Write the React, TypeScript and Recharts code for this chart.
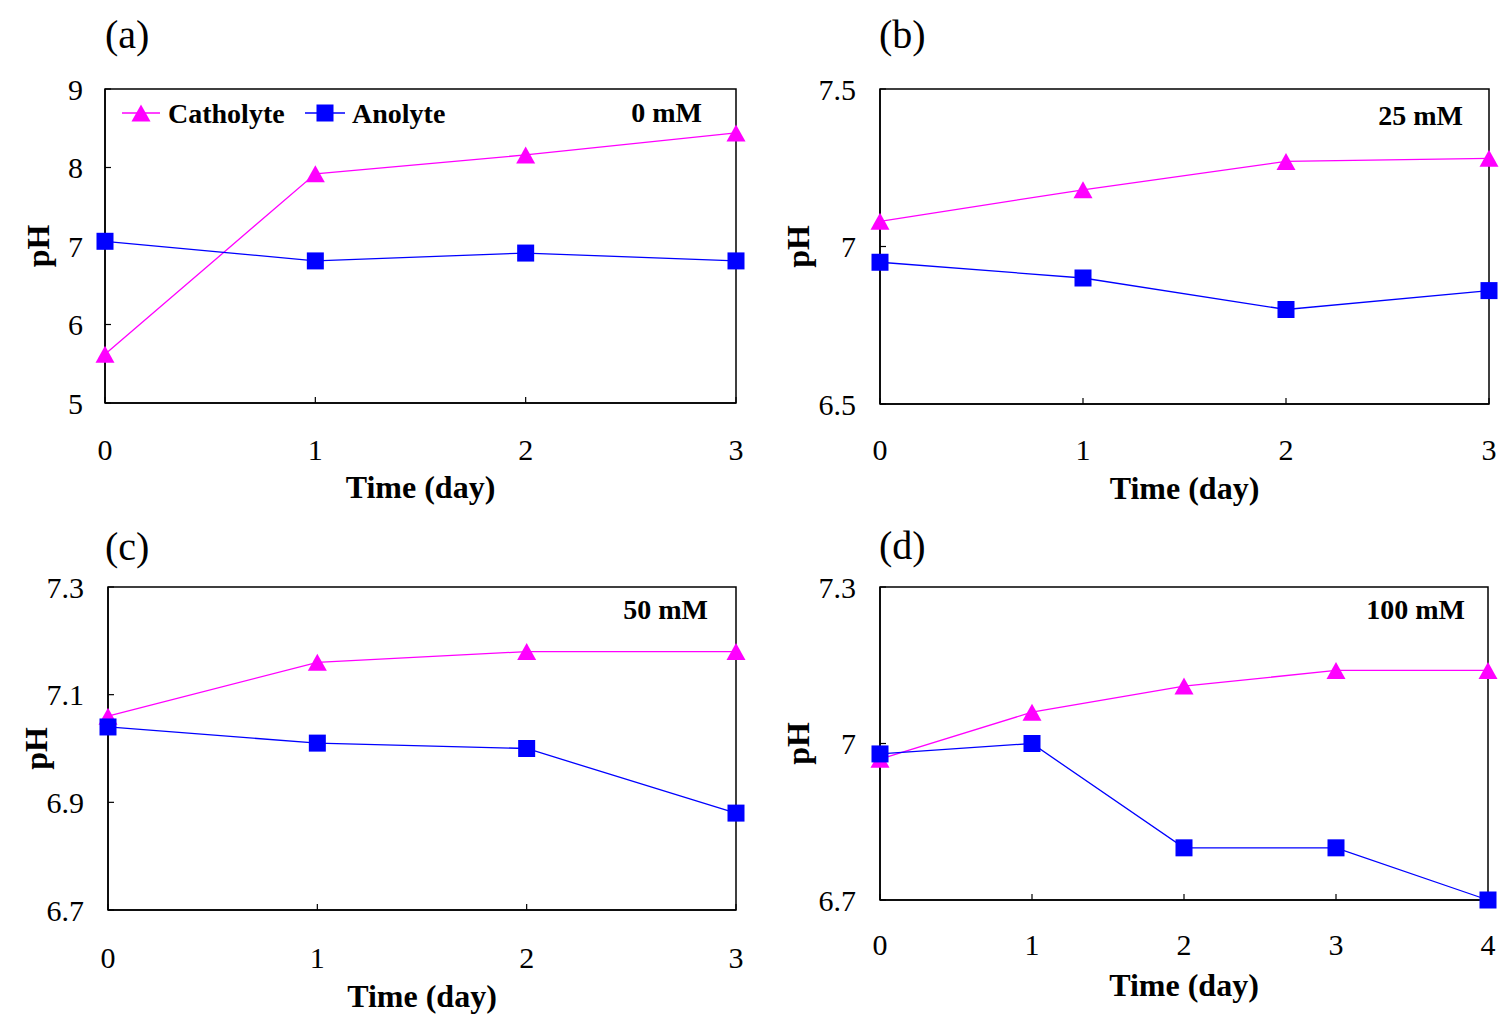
import React from 'react';
import { LineChart, Line, XAxis, YAxis, ReferenceArea, Legend, Label } from 'recharts';

// Sampling days
const daysShort = [0, 1, 2, 3];
const daysLong = [0, 1, 2, 3, 4];

// pH readings per buffer concentration
const catholyte0 = [5.62, 7.92, 8.16, 8.44];
const anolyte0 = [7.06, 6.81, 6.91, 6.81];
const catholyte25 = [7.08, 7.18, 7.27, 7.28];
const anolyte25 = [6.95, 6.9, 6.8, 6.86];
const catholyte50 = [7.06, 7.16, 7.18, 7.18];
const anolyte50 = [7.04, 7.01, 7.0, 6.88];
const catholyte100 = [6.97, 7.06, 7.11, 7.14, 7.14];
const anolyte100 = [6.98, 7.0, 6.8, 6.8, 6.7];

// Y-axis ticks per panel
const yTicks0 = [5, 6, 7, 8, 9];
const yTicks25 = [6.5, 7, 7.5];
const yTicks50 = [6.7, 6.9, 7.1, 7.3];
const yTicks100 = [6.7, 7, 7.3];

const panelLetters = ['(a)', '(b)', '(c)', '(d)'];
const concentrations = ['0 mM', '25 mM', '50 mM', '100 mM'];
const seriesNames = ['Catholyte', 'Anolyte'];
const xTitle = 'Time (day)';
const yTitle = 'pH';

const FONT = "'Liberation Serif', 'Times New Roman', serif";
const MAGENTA = '#FF00FF';
const BLUE = '#0000FF';

const TRI_W = 19;
const TRI_H = 17;
const SQ = 17;

const triPoints = (cx: number, cy: number) =>
  `${cx},${cy - TRI_H / 2} ${cx - TRI_W / 2},${cy + TRI_H / 2} ${cx + TRI_W / 2},${cy + TRI_H / 2}`;

const renderTriangle = (p: any) => {
  if (p.cx == null || p.cy == null) return <g key={`t-${p.index}`} />;
  return <polygon key={`t-${p.index}`} points={triPoints(p.cx, p.cy)} fill={MAGENTA} />;
};

const renderSquare = (p: any) => {
  if (p.cx == null || p.cy == null) return <g key={`s-${p.index}`} />;
  return <rect key={`s-${p.index}`} x={p.cx - SQ / 2} y={p.cy - SQ / 2} width={SQ} height={SQ} fill={BLUE} />;
};

const LegendContent = () => (
  <svg width={340} height={32} style={{ display: 'block', overflow: 'visible' }}>
    <line x1={10} x2={48} y1={15} y2={15} stroke={MAGENTA} strokeWidth={1.3} />
    <polygon points={triPoints(29, 15)} fill={MAGENTA} />
    <text x={56} y={15} dominantBaseline="central" fontFamily={FONT} fontWeight="bold" fontSize={28} fill="#000">
      {seriesNames[0]}
    </text>
    <line x1={193} x2={233} y1={15} y2={15} stroke={BLUE} strokeWidth={1.3} />
    <rect x={213 - SQ / 2} y={15 - SQ / 2} width={SQ} height={SQ} fill={BLUE} />
    <text x={240} y={15} dominantBaseline="central" fontFamily={FONT} fontWeight="bold" fontSize={28} fill="#000">
      {seriesNames[1]}
    </text>
  </svg>
);

type Box = { left: number; top: number; width: number; height: number };
type Plot = { l: number; r: number; t: number; b: number };

interface PanelProps {
  box: Box;
  plot: Plot;
  days: number[];
  cath: number[];
  ano: number[];
  yDomain: [number, number];
  yTicks: number[];
  yTickMargin: number;
  xTickMargin: number;
  xTitleOffset: number;
  pHx: number;
  showLegend?: boolean;
}

const Y_AXIS_W = 90;
const X_AXIS_H = 100;

const Panel = ({ box, plot, days, cath, ano, yDomain, yTicks, yTickMargin, xTickMargin, xTitleOffset, pHx, showLegend }: PanelProps) => {
  const rows = days.map((d, i) => ({ day: d, catholyte: cath[i], anolyte: ano[i] }));
  const margin = {
    top: plot.t - box.top,
    right: box.left + box.width - plot.r,
    left: plot.l - box.left - Y_AXIS_W,
    bottom: box.top + box.height - plot.b - X_AXIS_H,
  };
  const maxDay = days[days.length - 1];
  const tickStyle = { fill: '#000', fontSize: 30, fontFamily: FONT };
  const pHLocalX = pHx - box.left;
  const pHLocalY = (plot.t + plot.b) / 2 - box.top;
  return (
    <div style={{ position: 'absolute', left: box.left, top: box.top }}>
      <LineChart width={box.width} height={box.height} data={rows} margin={margin}>
        <ReferenceArea
          x1={0}
          x2={maxDay}
          y1={yDomain[0]}
          y2={yDomain[1]}
          fill="none"
          stroke="#000"
          strokeWidth={1.5}
          ifOverflow="visible"
        />
        <XAxis
          dataKey="day"
          type="number"
          domain={[0, maxDay]}
          ticks={days}
          interval={0}
          height={X_AXIS_H}
          tickSize={-6}
          tickMargin={xTickMargin}
          axisLine={{ stroke: '#000', strokeWidth: 1.5 }}
          tickLine={{ stroke: '#000', strokeWidth: 1.2 }}
          tick={tickStyle}
        >
          <Label
            value={xTitle}
            position="insideTop"
            offset={xTitleOffset}
            style={{ fontFamily: FONT, fontWeight: 'bold', fontSize: 32, fill: '#000' }}
          />
        </XAxis>
        <YAxis
          type="number"
          domain={yDomain}
          ticks={yTicks}
          interval={0}
          width={Y_AXIS_W}
          tickSize={-6}
          tickMargin={yTickMargin}
          axisLine={{ stroke: '#000', strokeWidth: 1.5 }}
          tickLine={{ stroke: '#000', strokeWidth: 1.2 }}
          tick={tickStyle}
        >
          <Label
            content={() => (
              <text
                x={pHLocalX}
                y={pHLocalY}
                transform={`rotate(-90, ${pHLocalX}, ${pHLocalY})`}
                textAnchor="middle"
                dominantBaseline="central"
                fontFamily={FONT}
                fontWeight="bold"
                fontSize={32}
                fill="#000"
              >
                {yTitle}
              </text>
            )}
          />
        </YAxis>
        {showLegend && (
          <Legend
            layout="vertical"
            align="center"
            verticalAlign="middle"
            content={LegendContent}
            wrapperStyle={{ position: 'absolute', left: 112, top: 98, width: 340, height: 32 }}
          />
        )}
        <Line
          dataKey="catholyte"
          name={seriesNames[0]}
          stroke={MAGENTA}
          strokeWidth={1.3}
          dot={renderTriangle}
          activeDot={false}
          isAnimationActive={false}
        />
        <Line
          dataKey="anolyte"
          name={seriesNames[1]}
          stroke={BLUE}
          strokeWidth={1.3}
          dot={renderSquare}
          activeDot={false}
          isAnimationActive={false}
        />
      </LineChart>
    </div>
  );
};

const tagStyle = (rightEdge: number, centerY: number): React.CSSProperties => ({
  position: 'absolute',
  right: 1512 - rightEdge,
  top: centerY - 14,
  fontFamily: FONT,
  fontWeight: 'bold',
  fontSize: 28,
  lineHeight: '28px',
  whiteSpace: 'nowrap',
  color: '#000',
});

const letterStyle = (left: number, top: number): React.CSSProperties => ({
  position: 'absolute',
  left,
  top,
  fontFamily: FONT,
  fontSize: 40,
  lineHeight: '40px',
  color: '#000',
});

export default function App() {
  return (
    <div style={{ position: 'absolute', left: 0, top: 0, width: 1512, height: 1024, background: '#fff', overflow: 'hidden' }}>
      <Panel
        box={{ left: 0, top: 0, width: 760, height: 512 }}
        plot={{ l: 105, r: 736, t: 89, b: 403 }}
        days={daysShort}
        cath={catholyte0}
        ano={anolyte0}
        yDomain={[5, 9]}
        yTicks={yTicks0}
        yTickMargin={28}
        xTickMargin={42}
        xTitleOffset={72}
        pHx={38}
        showLegend
      />
      <Panel
        box={{ left: 760, top: 0, width: 752, height: 512 }}
        plot={{ l: 880, r: 1489, t: 89, b: 404 }}
        days={daysShort}
        cath={catholyte25}
        ano={anolyte25}
        yDomain={[6.5, 7.5]}
        yTicks={yTicks25}
        yTickMargin={30}
        xTickMargin={41}
        xTitleOffset={72}
        pHx={798}
      />
      <Panel
        box={{ left: 0, top: 512, width: 760, height: 512 }}
        plot={{ l: 108, r: 736, t: 587, b: 910 }}
        days={daysShort}
        cath={catholyte50}
        ano={anolyte50}
        yDomain={[6.7, 7.3]}
        yTicks={yTicks50}
        yTickMargin={30}
        xTickMargin={43}
        xTitleOffset={74}
        pHx={36}
      />
      <Panel
        box={{ left: 760, top: 512, width: 752, height: 512 }}
        plot={{ l: 880, r: 1488, t: 587, b: 900 }}
        days={daysLong}
        cath={catholyte100}
        ano={anolyte100}
        yDomain={[6.7, 7.3]}
        yTicks={yTicks100}
        yTickMargin={30}
        xTickMargin={40}
        xTitleOffset={73}
        pHx={798}
      />

      <div style={letterStyle(105, 15)}>{panelLetters[0]}</div>
      <div style={letterStyle(879, 15)}>{panelLetters[1]}</div>
      <div style={letterStyle(105, 527)}>{panelLetters[2]}</div>
      <div style={letterStyle(879, 526)}>{panelLetters[3]}</div>

      <div style={tagStyle(702, 113)}>{concentrations[0]}</div>
      <div style={tagStyle(1463, 116)}>{concentrations[1]}</div>
      <div style={tagStyle(708, 610)}>{concentrations[2]}</div>
      <div style={tagStyle(1465, 610)}>{concentrations[3]}</div>
    </div>
  );
}
